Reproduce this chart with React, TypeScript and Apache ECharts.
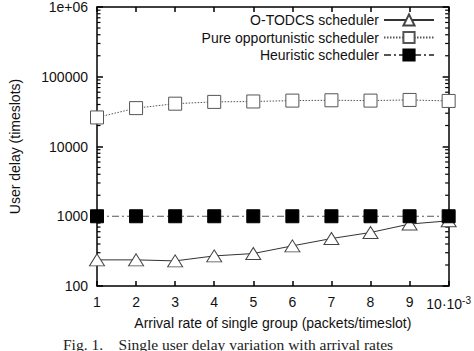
import React, { useEffect, useRef } from "react";
import * as echarts from "echarts";

const xValues = [1, 2, 3, 4, 5, 6, 7, 8, 9, 10];
const xTickLabels = ["1", "2", "3", "4", "5", "6", "7", "8", "9", "10·10{sup|-3}"];
const otodcs = [237, 237, 229, 270, 292, 376, 479, 585, 773, 860];
const pureOpp = [26100, 35500, 41100, 43600, 44200, 45500, 46000, 45500, 46500, 45000];
const heuristic = [1000, 1000, 1000, 1000, 1000, 1000, 1000, 1000, 1000, 1000];
const yTickLabels: Record<number, string> = { 100: "100", 1000: "1000", 10000: "10000", 100000: "100000", 1000000: "1e+06" };
const minorTickValues: number[] = [];
[100, 1000, 10000, 100000].forEach((d) => {
  for (let m = 2; m <= 9; m++) minorTickValues.push(d * m);
});

const FONT = "'Liberation Sans', Arial, sans-serif";

export default function App() {
  const ref = useRef<HTMLDivElement>(null);
  useEffect(() => {
    const chart = echarts.init(ref.current!, null, { renderer: "svg" });
    const pair = (ys: number[]) => xValues.map((x, i) => [x, ys[i]]);
    chart.setOption({
      animation: false,
      backgroundColor: "#fff",
      grid: { left: 91, right: 21, top: 7, bottom: 65 },
      legend: {
        data: ["O-TODCS scheduler", "Pure opportunistic scheduler", "Heuristic scheduler"],
        orient: "vertical",
        align: "right",
        right: 39,
        top: 13,
        padding: 0,
        itemWidth: 50,
        itemHeight: 14,
        itemGap: 3.5,
        textStyle: { fontFamily: FONT, fontSize: 14, color: "#111" },
      },
      xAxis: [
        {
          type: "value",
          min: 1,
          max: 10,
          interval: 1,
          position: "bottom",
          axisLine: { lineStyle: { color: "#000", width: 1.5 } },
          axisTick: { inside: true, length: 5, lineStyle: { color: "#000", width: 1.5 } },
          splitLine: { show: false },
          axisLabel: {
            margin: 9,
            fontFamily: FONT,
            fontSize: 14,
            color: "#111",
            formatter: (v: number) => xTickLabels[xValues.indexOf(v)] ?? "",
            rich: { sup: { fontSize: 10, verticalAlign: "top", padding: [0, 0, 8, 0], fontFamily: FONT, color: "#111" } },
          },
          name: "Arrival rate of single group (packets/timeslot)",
          nameLocation: "middle",
          nameGap: 29,
          nameTextStyle: { fontFamily: FONT, fontSize: 14, color: "#111" },
        },
        {
          type: "value",
          min: 1,
          max: 10,
          interval: 1,
          position: "top",
          axisLine: { lineStyle: { color: "#000", width: 1.5 } },
          axisTick: { inside: true, length: 5, lineStyle: { color: "#000", width: 1.5 } },
          splitLine: { show: false },
          axisLabel: { show: false },
        },
      ],
      yAxis: [
        {
          type: "log",
          logBase: 10,
          min: 100,
          max: 1000000,
          position: "left",
          axisLine: { lineStyle: { color: "#000", width: 1.5 } },
          axisTick: { inside: true, length: 6, lineStyle: { color: "#000", width: 1.5 } },
          splitLine: { show: false },
          axisLabel: {
            margin: 9,
            fontFamily: FONT,
            fontSize: 14,
            color: "#111",
            formatter: (v: number) => yTickLabels[Math.round(v)] ?? "",
          },
          name: "User delay (timeslots)",
          nameLocation: "middle",
          nameGap: 75,
          nameTextStyle: { fontFamily: FONT, fontSize: 14, color: "#111" },
        },
        {
          type: "log",
          logBase: 10,
          min: 100,
          max: 1000000,
          position: "right",
          axisLine: { lineStyle: { color: "#000", width: 1.5 } },
          axisTick: { inside: true, length: 6, lineStyle: { color: "#000", width: 1.5 } },
          splitLine: { show: false },
          axisLabel: { show: false },
        },
      ],
      series: [
        {
          type: "custom",
          name: "minorTicks",
          xAxisIndex: 0,
          yAxisIndex: 0,
          silent: true,
          data: minorTickValues.map((v) => [1, v]),
          renderItem: (params: any, api: any) => {
            const cs = params.coordSys;
            const y = api.coord([1, api.value(1)])[1];
            const st = { stroke: "#000", lineWidth: 1.2 };
            return {
              type: "group",
              children: [
                { type: "line", shape: { x1: cs.x, y1: y, x2: cs.x + 3.5, y2: y }, style: st },
                { type: "line", shape: { x1: cs.x + cs.width, y1: y, x2: cs.x + cs.width - 3.5, y2: y }, style: st },
              ],
            };
          },
          z: 1,
        },
        {
          type: "line",
          name: "O-TODCS scheduler",
          data: pair(otodcs),
          symbol: "triangle",
          symbolSize: [15, 12],
          showAllSymbol: true,
          lineStyle: { color: "#333", width: 1, type: "solid" },
          itemStyle: { color: "#fff", borderColor: "#444", borderWidth: 1 },
          z: 2,
        },
        {
          type: "line",
          name: "Pure opportunistic scheduler",
          data: pair(pureOpp),
          symbol: "rect",
          symbolSize: 13,
          showAllSymbol: true,
          lineStyle: { color: "#555", width: 1, type: [1.5, 1.5] },
          itemStyle: { color: "#fff", borderColor: "#555", borderWidth: 1 },
          z: 3,
        },
        {
          type: "line",
          name: "Heuristic scheduler",
          data: pair(heuristic),
          symbol: "rect",
          symbolSize: 13,
          showAllSymbol: true,
          lineStyle: { color: "#555", width: 1, type: [7, 3, 2, 3] },
          itemStyle: { color: "#000", borderColor: "#000", borderWidth: 1 },
          z: 4,
        },
      ],
      graphic: [
        {
          type: "text",
          left: 63,
          top: 336,
          style: {
            text: "Fig. 1.    Single user delay variation with arrival rates",
            font: "15.5px 'Liberation Serif', 'Times New Roman', serif",
            fill: "#222",
          },
        },
      ],
    });
    return () => chart.dispose();
  }, []);
  return <div ref={ref} style={{ width: 474, height: 351, position: "absolute", left: 0, top: 0 }} />;
}
